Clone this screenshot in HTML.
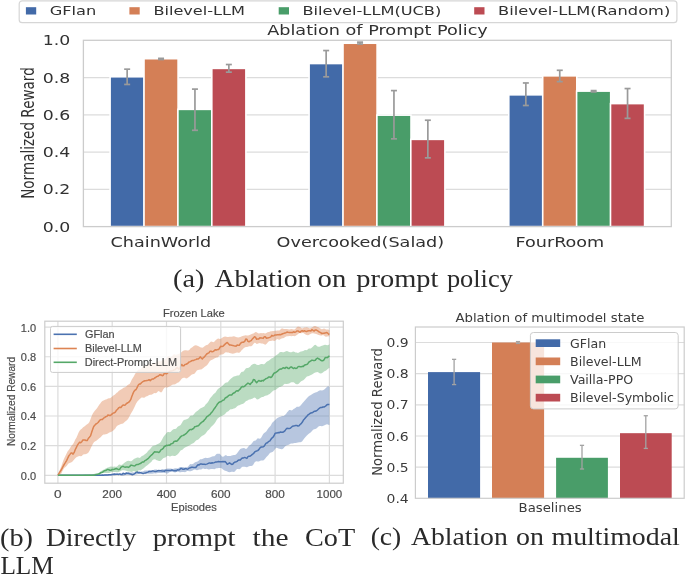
<!DOCTYPE html>
<html><head><meta charset="utf-8"><title>Figure</title>
<style>html,body{margin:0;padding:0;background:#fff;width:685px;height:575px;overflow:hidden}svg{display:block}</style>
</head><body>
<svg width="685" height="575" viewBox="0 0 685 575">
<defs><filter id="soft" filterUnits="userSpaceOnUse" x="0" y="0" width="685" height="575"><feGaussianBlur stdDeviation="0.45"/></filter></defs>
<rect x="0" y="0" width="685" height="575" fill="#ffffff"/>
<g filter="url(#soft)">
<line x1="83.40" y1="189.34" x2="671.30" y2="189.34" stroke="#dcdcdc" stroke-width="1.3"/>
<line x1="83.40" y1="152.08" x2="671.30" y2="152.08" stroke="#dcdcdc" stroke-width="1.3"/>
<line x1="83.40" y1="114.82" x2="671.30" y2="114.82" stroke="#dcdcdc" stroke-width="1.3"/>
<line x1="83.40" y1="77.56" x2="671.30" y2="77.56" stroke="#dcdcdc" stroke-width="1.3"/>
<rect x="110.10" y="76.76" width="34.10" height="149.84" fill="#436aa8" stroke="#ffffff" stroke-width="1.6"/>
<rect x="144.00" y="58.69" width="34.10" height="167.91" fill="#d47f56" stroke="#ffffff" stroke-width="1.6"/>
<rect x="177.90" y="109.36" width="34.10" height="117.24" fill="#4a9d69" stroke="#ffffff" stroke-width="1.6"/>
<rect x="211.80" y="68.38" width="34.10" height="158.22" fill="#bc4c53" stroke="#ffffff" stroke-width="1.6"/>
<rect x="309.10" y="63.53" width="34.10" height="163.07" fill="#436aa8" stroke="#ffffff" stroke-width="1.6"/>
<rect x="343.00" y="43.23" width="34.10" height="183.37" fill="#d47f56" stroke="#ffffff" stroke-width="1.6"/>
<rect x="376.90" y="115.14" width="34.10" height="111.46" fill="#4a9d69" stroke="#ffffff" stroke-width="1.6"/>
<rect x="410.80" y="139.36" width="34.10" height="87.24" fill="#bc4c53" stroke="#ffffff" stroke-width="1.6"/>
<rect x="508.80" y="94.83" width="34.10" height="131.77" fill="#436aa8" stroke="#ffffff" stroke-width="1.6"/>
<rect x="542.70" y="75.83" width="34.10" height="150.77" fill="#d47f56" stroke="#ffffff" stroke-width="1.6"/>
<rect x="576.60" y="91.11" width="34.10" height="135.49" fill="#4a9d69" stroke="#ffffff" stroke-width="1.6"/>
<rect x="610.50" y="103.59" width="34.10" height="123.01" fill="#bc4c53" stroke="#ffffff" stroke-width="1.6"/>
<line x1="127.15" y1="69.18" x2="127.15" y2="84.45" stroke="#9a9a9a" stroke-width="1.7"/>
<line x1="124.15" y1="69.18" x2="130.15" y2="69.18" stroke="#9a9a9a" stroke-width="1.7"/>
<line x1="124.15" y1="84.45" x2="130.15" y2="84.45" stroke="#9a9a9a" stroke-width="1.7"/>
<line x1="161.05" y1="58.37" x2="161.05" y2="59.49" stroke="#9a9a9a" stroke-width="1.7"/>
<line x1="158.05" y1="58.37" x2="164.05" y2="58.37" stroke="#9a9a9a" stroke-width="1.7"/>
<line x1="158.05" y1="59.49" x2="164.05" y2="59.49" stroke="#9a9a9a" stroke-width="1.7"/>
<line x1="194.95" y1="89.11" x2="194.95" y2="130.28" stroke="#9a9a9a" stroke-width="1.7"/>
<line x1="191.95" y1="89.11" x2="197.95" y2="89.11" stroke="#9a9a9a" stroke-width="1.7"/>
<line x1="191.95" y1="130.28" x2="197.95" y2="130.28" stroke="#9a9a9a" stroke-width="1.7"/>
<line x1="228.85" y1="64.52" x2="228.85" y2="72.16" stroke="#9a9a9a" stroke-width="1.7"/>
<line x1="225.85" y1="64.52" x2="231.85" y2="64.52" stroke="#9a9a9a" stroke-width="1.7"/>
<line x1="225.85" y1="72.16" x2="231.85" y2="72.16" stroke="#9a9a9a" stroke-width="1.7"/>
<line x1="326.15" y1="50.55" x2="326.15" y2="76.81" stroke="#9a9a9a" stroke-width="1.7"/>
<line x1="323.15" y1="50.55" x2="329.15" y2="50.55" stroke="#9a9a9a" stroke-width="1.7"/>
<line x1="323.15" y1="76.81" x2="329.15" y2="76.81" stroke="#9a9a9a" stroke-width="1.7"/>
<line x1="360.05" y1="42.16" x2="360.05" y2="44.03" stroke="#9a9a9a" stroke-width="1.7"/>
<line x1="357.05" y1="42.16" x2="363.05" y2="42.16" stroke="#9a9a9a" stroke-width="1.7"/>
<line x1="357.05" y1="44.03" x2="363.05" y2="44.03" stroke="#9a9a9a" stroke-width="1.7"/>
<line x1="393.95" y1="90.60" x2="393.95" y2="138.85" stroke="#9a9a9a" stroke-width="1.7"/>
<line x1="390.95" y1="90.60" x2="396.95" y2="90.60" stroke="#9a9a9a" stroke-width="1.7"/>
<line x1="390.95" y1="138.85" x2="396.95" y2="138.85" stroke="#9a9a9a" stroke-width="1.7"/>
<line x1="427.85" y1="120.22" x2="427.85" y2="157.86" stroke="#9a9a9a" stroke-width="1.7"/>
<line x1="424.85" y1="120.22" x2="430.85" y2="120.22" stroke="#9a9a9a" stroke-width="1.7"/>
<line x1="424.85" y1="157.86" x2="430.85" y2="157.86" stroke="#9a9a9a" stroke-width="1.7"/>
<line x1="525.85" y1="82.96" x2="525.85" y2="105.50" stroke="#9a9a9a" stroke-width="1.7"/>
<line x1="522.85" y1="82.96" x2="528.85" y2="82.96" stroke="#9a9a9a" stroke-width="1.7"/>
<line x1="522.85" y1="105.50" x2="528.85" y2="105.50" stroke="#9a9a9a" stroke-width="1.7"/>
<line x1="559.75" y1="70.29" x2="559.75" y2="81.66" stroke="#9a9a9a" stroke-width="1.7"/>
<line x1="556.75" y1="70.29" x2="562.75" y2="70.29" stroke="#9a9a9a" stroke-width="1.7"/>
<line x1="556.75" y1="81.66" x2="562.75" y2="81.66" stroke="#9a9a9a" stroke-width="1.7"/>
<line x1="593.65" y1="90.60" x2="593.65" y2="91.91" stroke="#9a9a9a" stroke-width="1.7"/>
<line x1="590.65" y1="90.60" x2="596.65" y2="90.60" stroke="#9a9a9a" stroke-width="1.7"/>
<line x1="590.65" y1="91.91" x2="596.65" y2="91.91" stroke="#9a9a9a" stroke-width="1.7"/>
<line x1="627.55" y1="88.55" x2="627.55" y2="118.36" stroke="#9a9a9a" stroke-width="1.7"/>
<line x1="624.55" y1="88.55" x2="630.55" y2="88.55" stroke="#9a9a9a" stroke-width="1.7"/>
<line x1="624.55" y1="118.36" x2="630.55" y2="118.36" stroke="#9a9a9a" stroke-width="1.7"/>
<rect x="83.40" y="40.30" width="587.90" height="186.30" fill="none" stroke="#cccccc" stroke-width="1.3"/>
<text x="42.80" y="231.60" font-size="14" style="font-family:&quot;DejaVu Sans&quot;,sans-serif" fill="#303030" textLength="27.51" lengthAdjust="spacingAndGlyphs">0.0</text>
<text x="42.80" y="194.34" font-size="14" style="font-family:&quot;DejaVu Sans&quot;,sans-serif" fill="#303030" textLength="27.51" lengthAdjust="spacingAndGlyphs">0.2</text>
<text x="42.80" y="157.08" font-size="14" style="font-family:&quot;DejaVu Sans&quot;,sans-serif" fill="#303030" textLength="27.51" lengthAdjust="spacingAndGlyphs">0.4</text>
<text x="42.80" y="119.82" font-size="14" style="font-family:&quot;DejaVu Sans&quot;,sans-serif" fill="#303030" textLength="27.51" lengthAdjust="spacingAndGlyphs">0.6</text>
<text x="42.80" y="82.56" font-size="14" style="font-family:&quot;DejaVu Sans&quot;,sans-serif" fill="#303030" textLength="27.51" lengthAdjust="spacingAndGlyphs">0.8</text>
<text x="42.80" y="45.30" font-size="14" style="font-family:&quot;DejaVu Sans&quot;,sans-serif" fill="#303030" textLength="27.51" lengthAdjust="spacingAndGlyphs">1.0</text>
<text transform="translate(33.80,198.80) scale(1.2,1) rotate(-90)" x="0" y="0" font-size="14.5" style="font-family:&quot;DejaVu Sans&quot;,sans-serif" fill="#303030" textLength="131.57" lengthAdjust="spacingAndGlyphs">Normalized Reward</text>
<text x="110.60" y="247.10" font-size="14" style="font-family:&quot;DejaVu Sans&quot;,sans-serif" fill="#303030" textLength="100.64" lengthAdjust="spacingAndGlyphs">ChainWorld</text>
<text x="276.60" y="247.10" font-size="14" style="font-family:&quot;DejaVu Sans&quot;,sans-serif" fill="#303030" textLength="167.58" lengthAdjust="spacingAndGlyphs">Overcooked(Salad)</text>
<text x="515.50" y="247.10" font-size="14" style="font-family:&quot;DejaVu Sans&quot;,sans-serif" fill="#303030" textLength="88.78" lengthAdjust="spacingAndGlyphs">FourRoom</text>
<text x="267.20" y="34.60" font-size="14" style="font-family:&quot;DejaVu Sans&quot;,sans-serif" fill="#303030" textLength="220.63" lengthAdjust="spacingAndGlyphs">Ablation of Prompt Policy</text>
<rect x="19.2" y="0.8" width="657.7" height="21.9" rx="3" ry="3" fill="#ffffff" fill-opacity="0.8" stroke="#d6d6d6" stroke-width="1.2"/>
<rect x="25.90" y="7.20" width="10.30" height="7.30" fill="#436aa8"/>
<text x="49.70" y="15.10" font-size="12.8" style="font-family:&quot;DejaVu Sans&quot;,sans-serif" fill="#303030" textLength="46.69" lengthAdjust="spacingAndGlyphs">GFlan</text>
<rect x="129.40" y="7.20" width="10.30" height="7.30" fill="#d47f56"/>
<text x="153.40" y="15.10" font-size="12.8" style="font-family:&quot;DejaVu Sans&quot;,sans-serif" fill="#303030" textLength="91.59" lengthAdjust="spacingAndGlyphs">Bilevel-LLM</text>
<rect x="278.70" y="7.20" width="10.30" height="7.30" fill="#4a9d69"/>
<text x="302.40" y="15.10" font-size="12.8" style="font-family:&quot;DejaVu Sans&quot;,sans-serif" fill="#303030" textLength="138.92" lengthAdjust="spacingAndGlyphs">Bilevel-LLM(UCB)</text>
<rect x="474.20" y="7.20" width="10.30" height="7.30" fill="#bc4c53"/>
<text x="498.00" y="15.10" font-size="12.8" style="font-family:&quot;DejaVu Sans&quot;,sans-serif" fill="#303030" textLength="172.30" lengthAdjust="spacingAndGlyphs">Bilevel-LLM(Random)</text>
<text x="173.10" y="287.30" font-size="26" style="font-family:&quot;Liberation Serif&quot;,serif" fill="#2a2a2a" textLength="31.30" lengthAdjust="spacingAndGlyphs">(a)</text>
<text x="214.40" y="287.30" font-size="26" style="font-family:&quot;Liberation Serif&quot;,serif" fill="#2a2a2a" textLength="96.98" lengthAdjust="spacingAndGlyphs">Ablation</text>
<text x="317.60" y="287.30" font-size="26" style="font-family:&quot;Liberation Serif&quot;,serif" fill="#2a2a2a" textLength="28.70" lengthAdjust="spacingAndGlyphs">on</text>
<text x="356.30" y="287.30" font-size="26" style="font-family:&quot;Liberation Serif&quot;,serif" fill="#2a2a2a" textLength="82.16" lengthAdjust="spacingAndGlyphs">prompt</text>
<text x="446.90" y="287.30" font-size="26" style="font-family:&quot;Liberation Serif&quot;,serif" fill="#2a2a2a" textLength="65.99" lengthAdjust="spacingAndGlyphs">policy</text>
<line x1="57.90" y1="321.20" x2="57.90" y2="483.20" stroke="#dcdcdc" stroke-width="1.2"/>
<line x1="112.20" y1="321.20" x2="112.20" y2="483.20" stroke="#dcdcdc" stroke-width="1.2"/>
<line x1="166.50" y1="321.20" x2="166.50" y2="483.20" stroke="#dcdcdc" stroke-width="1.2"/>
<line x1="220.80" y1="321.20" x2="220.80" y2="483.20" stroke="#dcdcdc" stroke-width="1.2"/>
<line x1="275.10" y1="321.20" x2="275.10" y2="483.20" stroke="#dcdcdc" stroke-width="1.2"/>
<line x1="329.40" y1="321.20" x2="329.40" y2="483.20" stroke="#dcdcdc" stroke-width="1.2"/>
<line x1="44.80" y1="475.30" x2="343.30" y2="475.30" stroke="#dcdcdc" stroke-width="1.2"/>
<line x1="44.80" y1="445.66" x2="343.30" y2="445.66" stroke="#dcdcdc" stroke-width="1.2"/>
<line x1="44.80" y1="416.02" x2="343.30" y2="416.02" stroke="#dcdcdc" stroke-width="1.2"/>
<line x1="44.80" y1="386.38" x2="343.30" y2="386.38" stroke="#dcdcdc" stroke-width="1.2"/>
<line x1="44.80" y1="356.74" x2="343.30" y2="356.74" stroke="#dcdcdc" stroke-width="1.2"/>
<line x1="44.80" y1="327.10" x2="343.30" y2="327.10" stroke="#dcdcdc" stroke-width="1.2"/>
<rect x="44.80" y="321.20" width="298.50" height="162.00" fill="none" stroke="#cccccc" stroke-width="1.2"/>
<path d="M57.9,475.3 L59.0,475.3 L60.1,475.3 L61.2,475.2 L62.2,475.2 L63.3,475.2 L64.4,475.2 L65.5,475.2 L66.6,475.2 L67.7,475.1 L68.8,475.1 L69.8,475.1 L70.9,475.0 L72.0,475.0 L73.1,475.0 L74.2,475.0 L75.3,475.0 L76.4,475.0 L77.4,475.0 L78.5,475.0 L79.6,474.9 L80.7,474.9 L81.8,475.0 L82.9,475.0 L84.0,474.9 L85.0,474.8 L86.1,474.8 L87.2,474.9 L88.3,474.9 L89.4,474.9 L90.5,474.9 L91.6,474.9 L92.7,474.9 L93.7,474.7 L94.8,474.7 L95.9,474.7 L97.0,474.7 L98.1,474.7 L99.2,474.6 L100.3,474.4 L101.3,474.4 L102.4,474.4 L103.5,474.3 L104.6,474.2 L105.7,474.1 L106.8,474.0 L107.9,473.9 L108.9,473.9 L110.0,474.0 L111.1,474.0 L112.2,474.0 L113.3,473.8 L114.4,473.8 L115.5,473.7 L116.5,473.4 L117.6,473.2 L118.7,473.4 L119.8,473.7 L120.9,473.7 L122.0,473.5 L123.1,473.3 L124.1,472.9 L125.2,472.6 L126.3,472.7 L127.4,472.7 L128.5,472.5 L129.6,472.4 L130.7,472.5 L131.7,472.4 L132.8,472.3 L133.9,472.4 L135.0,472.5 L136.1,472.3 L137.2,471.8 L138.3,471.6 L139.3,471.7 L140.4,471.8 L141.5,471.6 L142.6,471.5 L143.7,471.1 L144.8,470.6 L145.9,470.4 L147.0,470.4 L148.0,470.4 L149.1,470.2 L150.2,470.2 L151.3,470.4 L152.4,470.4 L153.5,470.1 L154.6,469.6 L155.6,469.4 L156.7,469.6 L157.8,470.0 L158.9,470.0 L160.0,469.9 L161.1,469.5 L162.2,469.1 L163.2,469.2 L164.3,469.2 L165.4,469.1 L166.5,468.7 L167.6,468.6 L168.7,468.6 L169.8,468.5 L170.8,468.5 L171.9,468.8 L173.0,469.0 L174.1,468.6 L175.2,468.2 L176.3,468.3 L177.4,468.4 L178.4,467.9 L179.5,467.2 L180.6,467.1 L181.7,467.1 L182.8,467.1 L183.9,467.3 L185.0,467.4 L186.0,467.3 L187.1,467.2 L188.2,466.5 L189.3,464.9 L190.4,464.1 L191.5,464.2 L192.6,464.1 L193.7,463.5 L194.7,462.6 L195.8,462.0 L196.9,461.7 L198.0,461.3 L199.1,460.2 L200.2,459.3 L201.3,459.2 L202.3,459.0 L203.4,458.6 L204.5,458.0 L205.6,457.8 L206.7,458.0 L207.8,458.1 L208.9,457.7 L209.9,457.4 L211.0,457.1 L212.1,456.6 L213.2,456.3 L214.3,456.2 L215.4,455.2 L216.5,453.9 L217.5,453.7 L218.6,453.7 L219.7,453.7 L220.8,454.9 L221.9,456.4 L223.0,456.7 L224.1,456.2 L225.1,455.3 L226.2,455.3 L227.3,455.9 L228.4,455.9 L229.5,456.0 L230.6,455.9 L231.7,455.5 L232.7,455.3 L233.8,455.1 L234.9,454.9 L236.0,454.4 L237.1,453.2 L238.2,451.7 L239.3,450.3 L240.3,449.0 L241.4,448.6 L242.5,448.3 L243.6,447.9 L244.7,448.3 L245.8,449.0 L246.9,448.6 L248.0,447.0 L249.0,445.8 L250.1,445.1 L251.2,444.3 L252.3,442.8 L253.4,441.3 L254.5,440.8 L255.6,440.5 L256.6,439.4 L257.7,438.3 L258.8,438.5 L259.9,438.8 L261.0,438.0 L262.1,436.1 L263.2,434.1 L264.2,432.9 L265.3,432.3 L266.4,431.2 L267.5,429.6 L268.6,428.1 L269.7,426.8 L270.8,425.4 L271.8,423.6 L272.9,422.0 L274.0,421.2 L275.1,420.1 L276.2,418.9 L277.3,418.0 L278.4,417.5 L279.4,417.1 L280.5,416.7 L281.6,416.3 L282.7,416.1 L283.8,415.9 L284.9,415.0 L286.0,414.0 L287.0,412.6 L288.1,411.2 L289.2,410.1 L290.3,409.9 L291.4,410.5 L292.5,409.9 L293.6,408.9 L294.6,408.5 L295.7,407.8 L296.8,406.8 L297.9,406.7 L299.0,406.8 L300.1,406.0 L301.2,404.7 L302.2,403.5 L303.3,402.2 L304.4,400.9 L305.5,399.8 L306.6,398.5 L307.7,397.3 L308.8,396.2 L309.9,395.6 L310.9,395.1 L312.0,394.3 L313.1,393.6 L314.2,393.0 L315.3,392.5 L316.4,392.2 L317.5,391.8 L318.5,391.1 L319.6,390.4 L320.7,390.2 L321.8,390.5 L322.9,390.3 L324.0,389.8 L325.1,388.8 L326.1,387.7 L327.2,386.8 L328.3,386.3 L329.4,386.8 L329.4,424.9 L328.3,424.7 L327.2,424.3 L326.1,424.6 L325.1,425.0 L324.0,425.4 L322.9,426.0 L321.8,426.2 L320.7,426.0 L319.6,425.9 L318.5,426.4 L317.5,427.5 L316.4,428.5 L315.3,429.0 L314.2,429.2 L313.1,429.8 L312.0,431.1 L310.9,432.2 L309.9,433.0 L308.8,433.8 L307.7,434.7 L306.6,435.7 L305.5,436.9 L304.4,438.2 L303.3,439.7 L302.2,441.2 L301.2,442.0 L300.1,442.2 L299.0,442.3 L297.9,442.4 L296.8,442.8 L295.7,443.1 L294.6,443.0 L293.6,443.2 L292.5,443.4 L291.4,443.6 L290.3,443.8 L289.2,444.4 L288.1,445.0 L287.0,445.3 L286.0,445.7 L284.9,446.5 L283.8,447.9 L282.7,449.1 L281.6,449.3 L280.5,448.9 L279.4,448.7 L278.4,448.6 L277.3,448.0 L276.2,447.8 L275.1,448.9 L274.0,450.6 L272.9,451.7 L271.8,452.2 L270.8,452.5 L269.7,453.3 L268.6,454.7 L267.5,455.9 L266.4,457.1 L265.3,458.5 L264.2,459.8 L263.2,460.5 L262.1,460.6 L261.0,460.4 L259.9,461.0 L258.8,461.6 L257.7,461.5 L256.6,461.2 L255.6,461.5 L254.5,462.5 L253.4,464.4 L252.3,465.8 L251.2,465.9 L250.1,466.0 L249.0,466.3 L248.0,466.8 L246.9,467.2 L245.8,467.0 L244.7,466.8 L243.6,466.7 L242.5,466.8 L241.4,467.5 L240.3,468.7 L239.3,469.3 L238.2,469.0 L237.1,469.1 L236.0,470.0 L234.9,471.4 L233.8,472.1 L232.7,471.8 L231.7,471.7 L230.6,472.1 L229.5,472.2 L228.4,472.0 L227.3,471.6 L226.2,471.0 L225.1,470.8 L224.1,470.3 L223.0,469.5 L221.9,468.6 L220.8,468.0 L219.7,467.9 L218.6,468.1 L217.5,468.3 L216.5,468.3 L215.4,468.8 L214.3,469.2 L213.2,469.0 L212.1,468.9 L211.0,469.0 L209.9,469.2 L208.9,469.5 L207.8,469.2 L206.7,468.8 L205.6,469.1 L204.5,469.0 L203.4,468.4 L202.3,468.7 L201.3,469.5 L200.2,469.5 L199.1,469.5 L198.0,469.9 L196.9,470.2 L195.8,469.7 L194.7,469.4 L193.7,469.7 L192.6,470.4 L191.5,471.0 L190.4,471.2 L189.3,471.2 L188.2,471.0 L187.1,471.1 L186.0,471.7 L185.0,472.2 L183.9,472.1 L182.8,472.0 L181.7,472.0 L180.6,472.3 L179.5,472.3 L178.4,471.8 L177.4,471.7 L176.3,472.1 L175.2,472.5 L174.1,472.3 L173.0,472.0 L171.9,471.8 L170.8,471.8 L169.8,472.1 L168.7,472.7 L167.6,473.4 L166.5,473.4 L165.4,473.1 L164.3,472.9 L163.2,472.8 L162.2,472.9 L161.1,473.0 L160.0,473.0 L158.9,472.9 L157.8,473.0 L156.7,473.3 L155.6,473.4 L154.6,473.3 L153.5,473.4 L152.4,473.7 L151.3,473.7 L150.2,473.7 L149.1,473.7 L148.0,473.7 L147.0,473.7 L145.9,473.5 L144.8,473.5 L143.7,473.5 L142.6,473.4 L141.5,473.4 L140.4,473.6 L139.3,473.9 L138.3,474.0 L137.2,474.2 L136.1,474.5 L135.0,474.6 L133.9,474.5 L132.8,474.5 L131.7,474.6 L130.7,474.7 L129.6,474.7 L128.5,474.9 L127.4,475.1 L126.3,475.1 L125.2,475.0 L124.1,475.4 L123.1,475.7 L122.0,475.5 L120.9,475.2 L119.8,475.0 L118.7,474.8 L117.6,474.8 L116.5,475.1 L115.5,475.3 L114.4,475.4 L113.3,475.4 L112.2,475.4 L111.1,475.4 L110.0,475.5 L108.9,475.5 L107.9,475.6 L106.8,475.8 L105.7,476.0 L104.6,476.0 L103.5,476.0 L102.4,475.9 L101.3,475.9 L100.3,475.9 L99.2,475.9 L98.1,475.9 L97.0,475.9 L95.9,475.7 L94.8,475.6 L93.7,475.7 L92.7,475.8 L91.6,475.8 L90.5,475.8 L89.4,475.9 L88.3,475.8 L87.2,475.8 L86.1,475.7 L85.0,475.7 L84.0,475.5 L82.9,475.5 L81.8,475.7 L80.7,475.7 L79.6,475.6 L78.5,475.5 L77.4,475.5 L76.4,475.6 L75.3,475.5 L74.2,475.5 L73.1,475.6 L72.0,475.5 L70.9,475.5 L69.8,475.5 L68.8,475.5 L67.7,475.4 L66.6,475.4 L65.5,475.4 L64.4,475.4 L63.3,475.4 L62.2,475.4 L61.2,475.3 L60.1,475.3 L59.0,475.3 L57.9,475.3 Z" fill="#4c72b0" fill-opacity="0.4"/>
<path d="M57.9,475.3 L59.0,475.3 L60.1,475.3 L61.2,475.3 L62.2,475.3 L63.3,475.3 L64.4,475.3 L65.5,475.3 L66.6,475.3 L67.7,475.3 L68.8,475.3 L69.8,475.3 L70.9,475.3 L72.0,475.3 L73.1,475.3 L74.2,475.3 L75.3,475.3 L76.4,475.3 L77.4,475.3 L78.5,475.3 L79.6,475.3 L80.7,475.3 L81.8,475.3 L82.9,475.3 L84.0,475.3 L85.0,475.3 L86.1,475.3 L87.2,475.3 L88.3,475.3 L89.4,475.3 L90.5,475.3 L91.6,475.3 L92.7,475.3 L93.7,475.3 L94.8,475.3 L95.9,475.3 L97.0,475.3 L98.1,475.3 L99.2,475.3 L100.3,475.2 L101.3,475.2 L102.4,475.1 L103.5,475.2 L104.6,475.1 L105.7,475.0 L106.8,474.9 L107.9,475.0 L108.9,474.7 L110.0,474.8 L111.1,474.7 L112.2,474.4 L113.3,474.2 L114.4,474.1 L115.5,474.3 L116.5,474.3 L117.6,474.3 L118.7,474.4 L119.8,473.9 L120.9,474.5 L122.0,474.4 L123.1,473.2 L124.1,473.8 L125.2,474.0 L126.3,473.1 L127.4,473.3 L128.5,473.3 L129.6,473.8 L130.7,474.0 L131.7,474.6 L132.8,474.7 L133.9,474.1 L135.0,473.3 L136.1,472.4 L137.2,471.9 L138.3,472.8 L139.3,472.6 L140.4,472.8 L141.5,473.0 L142.6,473.4 L143.7,473.4 L144.8,473.1 L145.9,472.9 L147.0,472.4 L148.0,472.1 L149.1,471.4 L150.2,471.5 L151.3,471.4 L152.4,471.0 L153.5,471.1 L154.6,471.4 L155.6,471.5 L156.7,471.3 L157.8,470.7 L158.9,470.6 L160.0,470.7 L161.1,470.8 L162.2,471.1 L163.2,471.1 L164.3,471.3 L165.4,470.4 L166.5,470.5 L167.6,470.5 L168.7,470.4 L169.8,470.6 L170.8,470.5 L171.9,470.0 L173.0,470.4 L174.1,470.8 L175.2,470.6 L176.3,470.8 L177.4,469.8 L178.4,470.0 L179.5,469.7 L180.6,468.6 L181.7,468.5 L182.8,469.3 L183.9,469.2 L185.0,468.7 L186.0,468.6 L187.1,469.2 L188.2,468.9 L189.3,468.0 L190.4,467.8 L191.5,467.3 L192.6,467.2 L193.7,467.5 L194.7,467.5 L195.8,467.5 L196.9,466.0 L198.0,464.8 L199.1,464.9 L200.2,464.1 L201.3,463.9 L202.3,464.3 L203.4,464.3 L204.5,464.2 L205.6,464.4 L206.7,464.1 L207.8,463.6 L208.9,463.1 L209.9,463.0 L211.0,463.2 L212.1,462.8 L213.2,462.9 L214.3,462.6 L215.4,462.1 L216.5,462.0 L217.5,461.8 L218.6,461.5 L219.7,461.7 L220.8,461.8 L221.9,461.7 L223.0,461.5 L224.1,461.7 L225.1,461.5 L226.2,462.7 L227.3,464.3 L228.4,463.6 L229.5,462.8 L230.6,463.6 L231.7,464.4 L232.7,464.2 L233.8,462.8 L234.9,462.1 L236.0,461.9 L237.1,461.4 L238.2,460.3 L239.3,460.0 L240.3,459.9 L241.4,458.7 L242.5,458.0 L243.6,457.9 L244.7,457.4 L245.8,457.9 L246.9,458.4 L248.0,456.7 L249.0,456.2 L250.1,456.2 L251.2,455.4 L252.3,454.4 L253.4,453.7 L254.5,452.2 L255.6,451.4 L256.6,451.0 L257.7,450.6 L258.8,449.6 L259.9,448.0 L261.0,447.1 L262.1,446.9 L263.2,446.8 L264.2,446.1 L265.3,444.3 L266.4,443.0 L267.5,442.8 L268.6,441.4 L269.7,441.1 L270.8,439.5 L271.8,438.1 L272.9,437.3 L274.0,435.8 L275.1,433.4 L276.2,432.9 L277.3,432.9 L278.4,432.5 L279.4,432.7 L280.5,432.0 L281.6,432.2 L282.7,432.2 L283.8,431.7 L284.9,430.8 L286.0,429.2 L287.0,428.3 L288.1,428.4 L289.2,428.4 L290.3,428.2 L291.4,427.2 L292.5,426.2 L293.6,426.0 L294.6,425.8 L295.7,425.5 L296.8,425.5 L297.9,426.0 L299.0,425.7 L300.1,424.5 L301.2,423.6 L302.2,422.3 L303.3,420.3 L304.4,419.1 L305.5,417.8 L306.6,416.6 L307.7,415.2 L308.8,414.4 L309.9,413.5 L310.9,413.0 L312.0,412.8 L313.1,412.1 L314.2,411.3 L315.3,411.2 L316.4,410.8 L317.5,410.0 L318.5,409.0 L319.6,408.1 L320.7,407.4 L321.8,407.5 L322.9,407.0 L324.0,407.0 L325.1,406.3 L326.1,405.6 L327.2,404.6 L328.3,404.5 L329.4,404.6" fill="none" stroke="#4c72b0" stroke-width="1.5" stroke-linejoin="round"/>
<path d="M57.9,474.2 L59.0,471.9 L60.1,469.3 L61.2,466.6 L62.2,463.8 L63.3,460.5 L64.4,458.0 L65.5,455.8 L66.6,453.4 L67.7,451.3 L68.8,449.9 L69.8,448.4 L70.9,446.5 L72.0,445.3 L73.1,444.1 L74.2,442.0 L75.3,439.6 L76.4,437.7 L77.4,435.5 L78.5,432.8 L79.6,430.7 L80.7,429.6 L81.8,428.7 L82.9,427.6 L84.0,426.7 L85.0,426.1 L86.1,425.1 L87.2,424.2 L88.3,423.5 L89.4,422.0 L90.5,419.3 L91.6,416.2 L92.7,413.8 L93.7,412.2 L94.8,410.7 L95.9,409.4 L97.0,408.2 L98.1,406.4 L99.2,404.8 L100.3,403.6 L101.3,402.0 L102.4,401.0 L103.5,400.4 L104.6,399.9 L105.7,399.5 L106.8,399.3 L107.9,398.6 L108.9,398.2 L110.0,398.2 L111.1,397.5 L112.2,396.5 L113.3,395.6 L114.4,394.9 L115.5,394.0 L116.5,393.0 L117.6,392.2 L118.7,391.1 L119.8,390.2 L120.9,389.6 L122.0,388.9 L123.1,388.0 L124.1,387.6 L125.2,387.3 L126.3,386.5 L127.4,385.3 L128.5,384.5 L129.6,383.9 L130.7,381.9 L131.7,379.7 L132.8,378.1 L133.9,376.2 L135.0,374.1 L136.1,372.6 L137.2,370.9 L138.3,369.8 L139.3,369.6 L140.4,369.2 L141.5,368.2 L142.6,366.6 L143.7,365.1 L144.8,365.1 L145.9,365.9 L147.0,365.6 L148.0,364.3 L149.1,363.4 L150.2,363.6 L151.3,363.8 L152.4,363.4 L153.5,363.1 L154.6,362.9 L155.6,362.6 L156.7,361.8 L157.8,361.3 L158.9,361.2 L160.0,361.3 L161.1,361.2 L162.2,360.3 L163.2,359.4 L164.3,359.4 L165.4,359.1 L166.5,357.9 L167.6,356.8 L168.7,356.3 L169.8,356.7 L170.8,357.2 L171.9,356.6 L173.0,354.9 L174.1,354.1 L175.2,354.7 L176.3,354.8 L177.4,354.3 L178.4,354.0 L179.5,353.6 L180.6,352.9 L181.7,351.9 L182.8,351.0 L183.9,350.6 L185.0,350.2 L186.0,350.2 L187.1,350.4 L188.2,350.6 L189.3,349.9 L190.4,348.6 L191.5,347.8 L192.6,347.0 L193.7,346.1 L194.7,345.5 L195.8,345.2 L196.9,345.4 L198.0,345.9 L199.1,346.6 L200.2,347.2 L201.3,347.5 L202.3,347.7 L203.4,347.3 L204.5,346.3 L205.6,345.4 L206.7,345.1 L207.8,344.8 L208.9,343.6 L209.9,342.4 L211.0,341.6 L212.1,341.7 L213.2,342.2 L214.3,341.7 L215.4,340.5 L216.5,339.5 L217.5,338.8 L218.6,338.6 L219.7,339.1 L220.8,338.8 L221.9,337.9 L223.0,337.2 L224.1,336.7 L225.1,336.5 L226.2,336.7 L227.3,337.0 L228.4,336.9 L229.5,336.8 L230.6,336.8 L231.7,336.8 L232.7,336.5 L233.8,336.3 L234.9,336.6 L236.0,336.9 L237.1,337.2 L238.2,337.4 L239.3,337.3 L240.3,337.0 L241.4,336.4 L242.5,335.9 L243.6,335.7 L244.7,335.5 L245.8,335.2 L246.9,335.4 L248.0,335.5 L249.0,335.2 L250.1,334.7 L251.2,334.2 L252.3,333.8 L253.4,333.6 L254.5,332.7 L255.6,331.9 L256.6,332.3 L257.7,333.1 L258.8,333.4 L259.9,333.2 L261.0,332.9 L262.1,333.2 L263.2,333.1 L264.2,333.2 L265.3,333.5 L266.4,333.0 L267.5,332.2 L268.6,331.9 L269.7,331.7 L270.8,331.3 L271.8,331.2 L272.9,331.1 L274.0,330.9 L275.1,330.8 L276.2,330.7 L277.3,330.5 L278.4,330.6 L279.4,330.5 L280.5,329.5 L281.6,328.6 L282.7,328.6 L283.8,329.0 L284.9,329.0 L286.0,329.0 L287.0,329.0 L288.1,329.3 L289.2,329.6 L290.3,329.3 L291.4,329.1 L292.5,329.3 L293.6,329.6 L294.6,329.5 L295.7,328.6 L296.8,327.3 L297.9,326.6 L299.0,326.8 L300.1,327.1 L301.2,327.9 L302.2,328.4 L303.3,327.9 L304.4,327.4 L305.5,327.4 L306.6,327.3 L307.7,327.4 L308.8,328.1 L309.9,328.4 L310.9,327.9 L312.0,327.4 L313.1,326.8 L314.2,326.0 L315.3,325.9 L316.4,326.6 L317.5,327.0 L318.5,327.3 L319.6,327.9 L320.7,328.7 L321.8,329.3 L322.9,328.9 L324.0,328.4 L325.1,328.9 L326.1,329.6 L327.2,329.5 L328.3,329.6 L329.4,330.2 L329.4,336.6 L328.3,336.3 L327.2,336.5 L326.1,336.7 L325.1,336.4 L324.0,335.5 L322.9,335.1 L321.8,335.4 L320.7,335.5 L319.6,335.3 L318.5,335.0 L317.5,334.6 L316.4,334.0 L315.3,333.7 L314.2,333.5 L313.1,333.2 L312.0,333.3 L310.9,333.7 L309.9,334.2 L308.8,334.9 L307.7,335.2 L306.6,334.9 L305.5,334.6 L304.4,333.7 L303.3,332.9 L302.2,333.1 L301.2,333.3 L300.1,333.0 L299.0,333.3 L297.9,334.2 L296.8,334.9 L295.7,335.7 L294.6,336.2 L293.6,336.1 L292.5,336.1 L291.4,336.3 L290.3,336.0 L289.2,335.9 L288.1,336.2 L287.0,336.3 L286.0,336.6 L284.9,337.3 L283.8,337.9 L282.7,338.2 L281.6,338.4 L280.5,339.0 L279.4,339.8 L278.4,339.5 L277.3,339.0 L276.2,339.7 L275.1,340.7 L274.0,341.0 L272.9,340.6 L271.8,340.8 L270.8,341.1 L269.7,341.1 L268.6,341.6 L267.5,342.8 L266.4,344.1 L265.3,344.7 L264.2,344.2 L263.2,343.7 L262.1,343.6 L261.0,343.4 L259.9,343.1 L258.8,343.3 L257.7,343.8 L256.6,343.9 L255.6,343.0 L254.5,342.8 L253.4,344.1 L252.3,345.5 L251.2,346.3 L250.1,346.2 L249.0,346.2 L248.0,346.8 L246.9,347.1 L245.8,347.1 L244.7,347.4 L243.6,348.2 L242.5,349.4 L241.4,350.5 L240.3,351.9 L239.3,352.8 L238.2,352.7 L237.1,352.4 L236.0,352.7 L234.9,353.2 L233.8,353.6 L232.7,353.8 L231.7,353.6 L230.6,353.2 L229.5,352.9 L228.4,352.6 L227.3,352.5 L226.2,352.3 L225.1,352.5 L224.1,353.4 L223.0,354.2 L221.9,354.5 L220.8,354.6 L219.7,355.2 L218.6,356.6 L217.5,357.5 L216.5,357.6 L215.4,358.0 L214.3,358.5 L213.2,359.2 L212.1,359.8 L211.0,360.2 L209.9,360.9 L208.9,362.4 L207.8,364.2 L206.7,365.6 L205.6,366.3 L204.5,367.0 L203.4,367.9 L202.3,368.7 L201.3,369.4 L200.2,369.6 L199.1,369.7 L198.0,370.0 L196.9,370.6 L195.8,372.1 L194.7,373.5 L193.7,373.9 L192.6,374.3 L191.5,374.8 L190.4,375.7 L189.3,376.7 L188.2,377.5 L187.1,378.3 L186.0,378.5 L185.0,377.8 L183.9,377.7 L182.8,378.1 L181.7,378.8 L180.6,380.2 L179.5,381.6 L178.4,382.4 L177.4,382.8 L176.3,383.4 L175.2,384.3 L174.1,384.5 L173.0,384.4 L171.9,385.0 L170.8,385.8 L169.8,386.3 L168.7,386.8 L167.6,387.4 L166.5,387.5 L165.4,387.3 L164.3,388.1 L163.2,389.6 L162.2,391.5 L161.1,392.5 L160.0,391.9 L158.9,391.1 L157.8,391.6 L156.7,392.7 L155.6,393.3 L154.6,393.1 L153.5,393.4 L152.4,394.3 L151.3,394.8 L150.2,394.7 L149.1,394.9 L148.0,395.7 L147.0,396.2 L145.9,396.6 L144.8,397.5 L143.7,397.7 L142.6,397.4 L141.5,397.6 L140.4,398.5 L139.3,399.6 L138.3,400.6 L137.2,401.7 L136.1,403.5 L135.0,406.0 L133.9,408.3 L132.8,410.5 L131.7,412.3 L130.7,414.1 L129.6,416.1 L128.5,418.2 L127.4,419.8 L126.3,420.7 L125.2,421.5 L124.1,422.6 L123.1,423.4 L122.0,423.7 L120.9,424.0 L119.8,424.5 L118.7,424.9 L117.6,425.4 L116.5,426.6 L115.5,428.3 L114.4,429.5 L113.3,430.4 L112.2,431.3 L111.1,432.0 L110.0,432.2 L108.9,432.7 L107.9,433.6 L106.8,434.1 L105.7,434.2 L104.6,434.5 L103.5,434.5 L102.4,435.2 L101.3,436.6 L100.3,437.6 L99.2,438.2 L98.1,439.2 L97.0,440.3 L95.9,440.9 L94.8,441.6 L93.7,442.5 L92.7,444.2 L91.6,446.3 L90.5,448.8 L89.4,451.1 L88.3,452.7 L87.2,453.6 L86.1,453.9 L85.0,454.2 L84.0,454.2 L82.9,454.7 L81.8,455.9 L80.7,456.2 L79.6,455.9 L78.5,456.2 L77.4,456.8 L76.4,457.3 L75.3,458.3 L74.2,459.6 L73.1,460.8 L72.0,461.9 L70.9,462.6 L69.8,462.9 L68.8,463.2 L67.7,464.4 L66.6,466.0 L65.5,466.9 L64.4,467.8 L63.3,469.6 L62.2,471.4 L61.2,473.7 L60.1,474.4 L59.0,474.2 L57.9,474.2 Z" fill="#dd8452" fill-opacity="0.42"/>
<path d="M57.9,475.3 L59.0,473.4 L60.1,471.7 L61.2,470.0 L62.2,468.1 L63.3,466.0 L64.4,464.1 L65.5,462.4 L66.6,460.6 L67.7,458.3 L68.8,455.9 L69.8,454.6 L70.9,453.1 L72.0,453.1 L73.1,454.1 L74.2,452.4 L75.3,449.5 L76.4,447.3 L77.4,445.2 L78.5,443.6 L79.6,442.2 L80.7,442.7 L81.8,441.7 L82.9,440.0 L84.0,439.9 L85.0,440.0 L86.1,440.6 L87.2,440.6 L88.3,438.5 L89.4,437.3 L90.5,435.9 L91.6,432.6 L92.7,429.3 L93.7,426.5 L94.8,425.2 L95.9,424.0 L97.0,423.3 L98.1,422.5 L99.2,421.0 L100.3,419.8 L101.3,419.6 L102.4,419.4 L103.5,418.2 L104.6,417.6 L105.7,416.7 L106.8,416.4 L107.9,415.1 L108.9,415.2 L110.0,415.6 L111.1,414.8 L112.2,413.9 L113.3,413.0 L114.4,412.8 L115.5,411.9 L116.5,410.2 L117.6,409.2 L118.7,407.8 L119.8,407.2 L120.9,407.6 L122.0,406.1 L123.1,404.9 L124.1,405.2 L125.2,405.0 L126.3,403.7 L127.4,403.0 L128.5,402.4 L129.6,401.4 L130.7,399.7 L131.7,396.7 L132.8,393.9 L133.9,391.5 L135.0,390.2 L136.1,389.5 L137.2,387.3 L138.3,385.0 L139.3,384.1 L140.4,383.9 L141.5,382.8 L142.6,381.8 L143.7,381.2 L144.8,380.7 L145.9,380.7 L147.0,380.6 L148.0,380.2 L149.1,379.7 L150.2,380.6 L151.3,379.6 L152.4,378.9 L153.5,379.0 L154.6,378.0 L155.6,377.5 L156.7,376.6 L157.8,376.3 L158.9,375.5 L160.0,374.7 L161.1,375.0 L162.2,375.7 L163.2,375.3 L164.3,373.4 L165.4,373.6 L166.5,373.8 L167.6,372.9 L168.7,372.2 L169.8,371.3 L170.8,371.1 L171.9,370.9 L173.0,370.6 L174.1,369.9 L175.2,369.6 L176.3,368.2 L177.4,367.5 L178.4,368.9 L179.5,368.9 L180.6,366.2 L181.7,364.5 L182.8,365.8 L183.9,365.8 L185.0,364.4 L186.0,364.3 L187.1,363.8 L188.2,362.9 L189.3,361.9 L190.4,361.6 L191.5,360.8 L192.6,360.5 L193.7,360.4 L194.7,359.9 L195.8,359.6 L196.9,359.0 L198.0,359.0 L199.1,358.3 L200.2,356.9 L201.3,358.0 L202.3,359.0 L203.4,357.6 L204.5,356.8 L205.6,355.4 L206.7,354.0 L207.8,353.3 L208.9,352.9 L209.9,351.3 L211.0,351.3 L212.1,351.8 L213.2,351.5 L214.3,350.6 L215.4,349.7 L216.5,350.0 L217.5,349.6 L218.6,349.6 L219.7,347.8 L220.8,346.3 L221.9,346.4 L223.0,346.2 L224.1,345.1 L225.1,344.1 L226.2,343.2 L227.3,342.5 L228.4,343.8 L229.5,344.9 L230.6,345.0 L231.7,345.2 L232.7,345.4 L233.8,345.7 L234.9,345.9 L236.0,346.2 L237.1,345.1 L238.2,345.3 L239.3,345.3 L240.3,343.7 L241.4,342.4 L242.5,342.2 L243.6,342.2 L244.7,341.4 L245.8,339.1 L246.9,339.3 L248.0,341.4 L249.0,341.8 L250.1,341.0 L251.2,340.6 L252.3,339.1 L253.4,337.9 L254.5,336.7 L255.6,337.4 L256.6,339.3 L257.7,338.9 L258.8,338.9 L259.9,337.8 L261.0,337.9 L262.1,338.1 L263.2,338.4 L264.2,336.8 L265.3,336.7 L266.4,338.2 L267.5,338.0 L268.6,337.8 L269.7,337.4 L270.8,336.9 L271.8,335.4 L272.9,336.0 L274.0,335.6 L275.1,334.9 L276.2,335.0 L277.3,334.8 L278.4,334.7 L279.4,334.6 L280.5,334.8 L281.6,334.3 L282.7,333.8 L283.8,333.4 L284.9,333.0 L286.0,332.7 L287.0,332.1 L288.1,332.3 L289.2,332.4 L290.3,332.5 L291.4,332.5 L292.5,332.5 L293.6,331.8 L294.6,332.2 L295.7,332.0 L296.8,331.1 L297.9,330.9 L299.0,331.7 L300.1,332.2 L301.2,331.0 L302.2,330.8 L303.3,331.3 L304.4,330.7 L305.5,331.2 L306.6,331.5 L307.7,330.9 L308.8,330.7 L309.9,330.7 L310.9,330.9 L312.0,329.6 L313.1,330.5 L314.2,331.0 L315.3,329.9 L316.4,330.1 L317.5,330.7 L318.5,331.5 L319.6,332.1 L320.7,332.7 L321.8,333.6 L322.9,333.3 L324.0,333.3 L325.1,333.1 L326.1,332.6 L327.2,332.8 L328.3,333.8 L329.4,334.5" fill="none" stroke="#dd8452" stroke-width="1.5" stroke-linejoin="round"/>
<path d="M57.9,475.3 L59.0,475.3 L60.1,475.3 L61.2,475.2 L62.2,475.2 L63.3,475.1 L64.4,475.1 L65.5,475.1 L66.6,475.1 L67.7,475.0 L68.8,475.0 L69.8,475.0 L70.9,475.0 L72.0,475.0 L73.1,475.0 L74.2,475.0 L75.3,475.0 L76.4,474.9 L77.4,474.9 L78.5,474.9 L79.6,474.8 L80.7,474.9 L81.8,474.9 L82.9,474.9 L84.0,474.8 L85.0,474.7 L86.1,474.7 L87.2,474.6 L88.3,474.5 L89.4,474.3 L90.5,474.4 L91.6,474.4 L92.7,474.2 L93.7,474.0 L94.8,473.7 L95.9,473.5 L97.0,473.5 L98.1,473.3 L99.2,472.6 L100.3,471.8 L101.3,471.1 L102.4,470.3 L103.5,469.7 L104.6,469.2 L105.7,468.5 L106.8,467.9 L107.9,467.6 L108.9,467.3 L110.0,466.8 L111.1,466.6 L112.2,466.7 L113.3,466.7 L114.4,466.6 L115.5,466.8 L116.5,466.8 L117.6,465.9 L118.7,464.8 L119.8,464.5 L120.9,464.9 L122.0,464.8 L123.1,463.9 L124.1,463.0 L125.2,462.3 L126.3,461.4 L127.4,460.9 L128.5,460.8 L129.6,460.9 L130.7,461.3 L131.7,461.0 L132.8,459.9 L133.9,459.0 L135.0,458.5 L136.1,458.0 L137.2,457.6 L138.3,457.6 L139.3,458.0 L140.4,457.4 L141.5,456.3 L142.6,455.7 L143.7,455.3 L144.8,454.3 L145.9,453.4 L147.0,452.4 L148.0,451.0 L149.1,450.0 L150.2,449.1 L151.3,447.6 L152.4,446.3 L153.5,445.7 L154.6,445.5 L155.6,445.3 L156.7,444.6 L157.8,444.0 L158.9,443.6 L160.0,442.7 L161.1,441.2 L162.2,439.2 L163.2,437.2 L164.3,435.8 L165.4,434.5 L166.5,433.0 L167.6,432.0 L168.7,432.1 L169.8,432.2 L170.8,431.8 L171.9,430.5 L173.0,429.4 L174.1,429.0 L175.2,428.9 L176.3,428.4 L177.4,427.1 L178.4,426.2 L179.5,425.8 L180.6,424.9 L181.7,423.2 L182.8,421.3 L183.9,419.9 L185.0,419.7 L186.0,419.5 L187.1,419.0 L188.2,418.5 L189.3,417.2 L190.4,415.7 L191.5,415.4 L192.6,415.4 L193.7,414.6 L194.7,413.2 L195.8,411.9 L196.9,411.2 L198.0,410.5 L199.1,409.4 L200.2,408.6 L201.3,407.9 L202.3,407.4 L203.4,407.1 L204.5,406.2 L205.6,404.6 L206.7,403.4 L207.8,402.2 L208.9,400.4 L209.9,398.6 L211.0,397.3 L212.1,396.0 L213.2,394.6 L214.3,393.6 L215.4,392.7 L216.5,391.1 L217.5,389.5 L218.6,388.6 L219.7,387.7 L220.8,386.9 L221.9,386.2 L223.0,385.3 L224.1,384.1 L225.1,383.0 L226.2,382.6 L227.3,382.4 L228.4,381.5 L229.5,380.1 L230.6,378.9 L231.7,378.0 L232.7,377.2 L233.8,376.5 L234.9,376.2 L236.0,376.0 L237.1,375.6 L238.2,375.4 L239.3,375.2 L240.3,373.6 L241.4,371.9 L242.5,371.7 L243.6,371.6 L244.7,370.0 L245.8,368.4 L246.9,367.9 L248.0,367.9 L249.0,367.6 L250.1,366.7 L251.2,365.3 L252.3,364.5 L253.4,364.0 L254.5,363.7 L255.6,363.9 L256.6,364.7 L257.7,365.1 L258.8,365.0 L259.9,364.6 L261.0,364.0 L262.1,364.0 L263.2,364.3 L264.2,364.2 L265.3,363.2 L266.4,361.9 L267.5,361.3 L268.6,360.8 L269.7,359.9 L270.8,359.0 L271.8,358.3 L272.9,357.9 L274.0,357.1 L275.1,356.1 L276.2,355.3 L277.3,354.6 L278.4,353.8 L279.4,352.6 L280.5,351.9 L281.6,352.0 L282.7,352.3 L283.8,352.2 L284.9,351.8 L286.0,351.3 L287.0,351.0 L288.1,351.5 L289.2,352.0 L290.3,352.3 L291.4,352.2 L292.5,351.8 L293.6,351.5 L294.6,351.9 L295.7,352.5 L296.8,352.6 L297.9,352.9 L299.0,352.4 L300.1,351.7 L301.2,351.4 L302.2,351.2 L303.3,350.9 L304.4,350.3 L305.5,350.0 L306.6,350.2 L307.7,349.5 L308.8,348.6 L309.9,348.5 L310.9,348.4 L312.0,347.6 L313.1,346.5 L314.2,345.3 L315.3,344.8 L316.4,345.6 L317.5,346.6 L318.5,346.8 L319.6,346.7 L320.7,346.2 L321.8,345.8 L322.9,345.6 L324.0,345.1 L325.1,344.8 L326.1,345.0 L327.2,345.2 L328.3,344.9 L329.4,344.3 L329.4,368.1 L328.3,368.6 L327.2,369.6 L326.1,370.4 L325.1,370.9 L324.0,371.6 L322.9,372.5 L321.8,373.2 L320.7,373.5 L319.6,373.3 L318.5,372.6 L317.5,372.1 L316.4,372.2 L315.3,372.5 L314.2,372.9 L313.1,373.7 L312.0,374.6 L310.9,375.1 L309.9,375.5 L308.8,376.0 L307.7,376.3 L306.6,376.8 L305.5,378.0 L304.4,379.3 L303.3,380.3 L302.2,380.8 L301.2,381.2 L300.1,382.2 L299.0,383.4 L297.9,384.2 L296.8,384.3 L295.7,383.9 L294.6,382.9 L293.6,382.3 L292.5,382.2 L291.4,382.2 L290.3,382.8 L289.2,383.4 L288.1,383.8 L287.0,384.0 L286.0,383.9 L284.9,383.7 L283.8,384.6 L282.7,385.7 L281.6,386.3 L280.5,386.7 L279.4,387.1 L278.4,387.7 L277.3,388.6 L276.2,389.5 L275.1,390.0 L274.0,390.3 L272.9,391.1 L271.8,392.1 L270.8,393.1 L269.7,393.9 L268.6,394.6 L267.5,395.3 L266.4,395.5 L265.3,395.7 L264.2,396.3 L263.2,396.9 L262.1,397.1 L261.0,397.5 L259.9,398.2 L258.8,398.9 L257.7,399.5 L256.6,399.3 L255.6,398.1 L254.5,397.6 L253.4,398.0 L252.3,398.7 L251.2,399.1 L250.1,399.4 L249.0,399.6 L248.0,400.2 L246.9,400.7 L245.8,401.3 L244.7,402.5 L243.6,403.4 L242.5,403.9 L241.4,404.3 L240.3,404.8 L239.3,405.2 L238.2,405.5 L237.1,406.3 L236.0,407.5 L234.9,408.2 L233.8,408.6 L232.7,409.0 L231.7,409.2 L230.6,409.3 L229.5,410.1 L228.4,411.2 L227.3,411.8 L226.2,412.6 L225.1,413.9 L224.1,414.7 L223.0,415.3 L221.9,416.0 L220.8,416.5 L219.7,417.0 L218.6,417.7 L217.5,418.7 L216.5,420.3 L215.4,422.3 L214.3,423.8 L213.2,425.0 L212.1,426.0 L211.0,426.9 L209.9,428.5 L208.9,429.7 L207.8,430.5 L206.7,431.9 L205.6,433.4 L204.5,434.6 L203.4,435.3 L202.3,435.7 L201.3,436.4 L200.2,437.5 L199.1,438.7 L198.0,439.8 L196.9,440.1 L195.8,440.7 L194.7,441.9 L193.7,443.0 L192.6,443.6 L191.5,444.0 L190.4,444.7 L189.3,445.5 L188.2,446.0 L187.1,446.5 L186.0,447.1 L185.0,447.5 L183.9,448.3 L182.8,449.4 L181.7,450.0 L180.6,450.6 L179.5,451.9 L178.4,453.4 L177.4,454.5 L176.3,455.3 L175.2,455.9 L174.1,455.9 L173.0,455.8 L171.9,455.8 L170.8,456.2 L169.8,456.4 L168.7,456.1 L167.6,455.8 L166.5,456.5 L165.4,457.4 L164.3,457.7 L163.2,458.3 L162.2,459.3 L161.1,460.4 L160.0,461.1 L158.9,460.9 L157.8,460.6 L156.7,460.2 L155.6,459.6 L154.6,459.3 L153.5,459.4 L152.4,460.3 L151.3,461.9 L150.2,462.7 L149.1,463.7 L148.0,464.7 L147.0,465.5 L145.9,466.3 L144.8,467.3 L143.7,468.2 L142.6,469.0 L141.5,469.8 L140.4,470.4 L139.3,470.3 L138.3,470.6 L137.2,471.7 L136.1,471.9 L135.0,471.4 L133.9,471.1 L132.8,471.5 L131.7,471.9 L130.7,471.7 L129.6,471.5 L128.5,471.5 L127.4,471.2 L126.3,470.8 L125.2,470.4 L124.1,470.2 L123.1,470.2 L122.0,470.3 L120.9,470.9 L119.8,471.6 L118.7,472.0 L117.6,472.2 L116.5,472.3 L115.5,472.1 L114.4,471.9 L113.3,472.1 L112.2,472.1 L111.1,472.1 L110.0,472.8 L108.9,473.1 L107.9,472.9 L106.8,472.9 L105.7,473.1 L104.6,472.9 L103.5,472.9 L102.4,473.2 L101.3,473.6 L100.3,473.9 L99.2,474.2 L98.1,474.5 L97.0,474.9 L95.9,475.1 L94.8,475.4 L93.7,475.7 L92.7,476.0 L91.6,476.0 L90.5,475.9 L89.4,476.0 L88.3,476.1 L87.2,476.1 L86.1,476.0 L85.0,475.9 L84.0,475.9 L82.9,475.8 L81.8,475.7 L80.7,475.7 L79.6,475.7 L78.5,475.8 L77.4,475.8 L76.4,475.7 L75.3,475.6 L74.2,475.7 L73.1,475.7 L72.0,475.6 L70.9,475.6 L69.8,475.6 L68.8,475.6 L67.7,475.6 L66.6,475.6 L65.5,475.6 L64.4,475.5 L63.3,475.4 L62.2,475.4 L61.2,475.3 L60.1,475.3 L59.0,475.3 L57.9,475.3 Z" fill="#55a868" fill-opacity="0.4"/>
<path d="M57.9,475.3 L59.0,475.3 L60.1,475.3 L61.2,475.3 L62.2,475.3 L63.3,475.3 L64.4,475.3 L65.5,475.3 L66.6,475.3 L67.7,475.3 L68.8,475.3 L69.8,475.3 L70.9,475.3 L72.0,475.3 L73.1,475.3 L74.2,475.3 L75.3,475.3 L76.4,475.3 L77.4,475.3 L78.5,475.3 L79.6,475.3 L80.7,475.3 L81.8,475.3 L82.9,475.3 L84.0,475.3 L85.0,475.3 L86.1,475.3 L87.2,475.3 L88.3,475.3 L89.4,475.3 L90.5,475.3 L91.6,475.3 L92.7,475.3 L93.7,475.3 L94.8,475.0 L95.9,474.6 L97.0,474.4 L98.1,474.1 L99.2,474.0 L100.3,473.0 L101.3,472.4 L102.4,472.3 L103.5,471.4 L104.6,470.7 L105.7,470.6 L106.8,469.9 L107.9,469.3 L108.9,469.8 L110.0,470.3 L111.1,470.2 L112.2,469.5 L113.3,469.4 L114.4,469.3 L115.5,468.8 L116.5,468.5 L117.6,469.1 L118.7,469.5 L119.8,469.2 L120.9,467.3 L122.0,466.6 L123.1,466.3 L124.1,466.9 L125.2,467.3 L126.3,466.9 L127.4,467.0 L128.5,467.4 L129.6,466.7 L130.7,465.2 L131.7,465.3 L132.8,465.6 L133.9,465.9 L135.0,465.8 L136.1,464.8 L137.2,464.6 L138.3,464.5 L139.3,463.8 L140.4,463.6 L141.5,462.6 L142.6,461.9 L143.7,462.1 L144.8,460.6 L145.9,460.2 L147.0,459.4 L148.0,458.7 L149.1,457.5 L150.2,456.2 L151.3,455.2 L152.4,454.3 L153.5,453.0 L154.6,451.7 L155.6,452.0 L156.7,452.1 L157.8,452.1 L158.9,452.5 L160.0,451.4 L161.1,449.6 L162.2,449.2 L163.2,448.4 L164.3,446.5 L165.4,446.0 L166.5,445.3 L167.6,445.4 L168.7,445.1 L169.8,445.3 L170.8,444.0 L171.9,443.6 L173.0,443.2 L174.1,441.5 L175.2,441.1 L176.3,441.3 L177.4,440.8 L178.4,439.6 L179.5,438.3 L180.6,436.8 L181.7,435.9 L182.8,435.6 L183.9,435.0 L185.0,434.3 L186.0,433.7 L187.1,432.5 L188.2,431.2 L189.3,430.1 L190.4,429.4 L191.5,429.7 L192.6,429.0 L193.7,428.3 L194.7,426.7 L195.8,426.5 L196.9,426.1 L198.0,425.9 L199.1,425.0 L200.2,423.6 L201.3,422.7 L202.3,421.8 L203.4,421.3 L204.5,419.8 L205.6,418.7 L206.7,416.9 L207.8,416.2 L208.9,415.2 L209.9,414.7 L211.0,413.1 L212.1,411.9 L213.2,410.4 L214.3,408.7 L215.4,407.2 L216.5,405.6 L217.5,403.9 L218.6,402.7 L219.7,402.0 L220.8,401.8 L221.9,401.0 L223.0,400.2 L224.1,399.9 L225.1,398.2 L226.2,397.5 L227.3,396.9 L228.4,395.7 L229.5,395.1 L230.6,395.1 L231.7,394.9 L232.7,393.7 L233.8,393.0 L234.9,392.5 L236.0,391.1 L237.1,390.7 L238.2,391.0 L239.3,389.8 L240.3,388.9 L241.4,387.1 L242.5,386.5 L243.6,386.8 L244.7,386.2 L245.8,385.0 L246.9,384.0 L248.0,383.1 L249.0,383.6 L250.1,384.5 L251.2,383.0 L252.3,382.2 L253.4,379.6 L254.5,379.7 L255.6,381.6 L256.6,382.7 L257.7,381.5 L258.8,380.5 L259.9,381.1 L261.0,381.3 L262.1,380.4 L263.2,380.9 L264.2,379.9 L265.3,379.2 L266.4,378.4 L267.5,378.1 L268.6,377.0 L269.7,377.0 L270.8,377.5 L271.8,376.9 L272.9,375.0 L274.0,373.2 L275.1,372.7 L276.2,372.2 L277.3,371.4 L278.4,370.2 L279.4,369.5 L280.5,369.0 L281.6,369.0 L282.7,368.0 L283.8,367.8 L284.9,368.4 L286.0,367.2 L287.0,367.4 L288.1,368.4 L289.2,368.6 L290.3,367.3 L291.4,366.9 L292.5,367.9 L293.6,368.5 L294.6,367.8 L295.7,368.4 L296.8,368.3 L297.9,366.9 L299.0,366.4 L300.1,366.7 L301.2,366.8 L302.2,366.3 L303.3,366.5 L304.4,365.2 L305.5,364.7 L306.6,364.6 L307.7,363.8 L308.8,362.2 L309.9,361.5 L310.9,360.8 L312.0,360.1 L313.1,360.4 L314.2,360.5 L315.3,360.2 L316.4,358.8 L317.5,358.1 L318.5,358.7 L319.6,359.2 L320.7,360.3 L321.8,360.7 L322.9,360.7 L324.0,359.8 L325.1,357.8 L326.1,357.4 L327.2,357.7 L328.3,356.9 L329.4,355.7" fill="none" stroke="#55a868" stroke-width="1.5" stroke-linejoin="round"/>
<text x="20.80" y="479.70" font-size="10.8" style="font-family:&quot;Liberation Sans&quot;,Arial,sans-serif" fill="#4a4a4a" textLength="15.30" lengthAdjust="spacingAndGlyphs" stroke="#4a4a4a" stroke-width="0.18">0.0</text>
<text x="20.80" y="450.06" font-size="10.8" style="font-family:&quot;Liberation Sans&quot;,Arial,sans-serif" fill="#4a4a4a" textLength="15.30" lengthAdjust="spacingAndGlyphs" stroke="#4a4a4a" stroke-width="0.18">0.2</text>
<text x="20.80" y="420.42" font-size="10.8" style="font-family:&quot;Liberation Sans&quot;,Arial,sans-serif" fill="#4a4a4a" textLength="15.30" lengthAdjust="spacingAndGlyphs" stroke="#4a4a4a" stroke-width="0.18">0.4</text>
<text x="20.80" y="390.78" font-size="10.8" style="font-family:&quot;Liberation Sans&quot;,Arial,sans-serif" fill="#4a4a4a" textLength="15.30" lengthAdjust="spacingAndGlyphs" stroke="#4a4a4a" stroke-width="0.18">0.6</text>
<text x="20.80" y="361.14" font-size="10.8" style="font-family:&quot;Liberation Sans&quot;,Arial,sans-serif" fill="#4a4a4a" textLength="15.30" lengthAdjust="spacingAndGlyphs" stroke="#4a4a4a" stroke-width="0.18">0.8</text>
<text x="20.80" y="331.50" font-size="10.8" style="font-family:&quot;Liberation Sans&quot;,Arial,sans-serif" fill="#4a4a4a" textLength="15.30" lengthAdjust="spacingAndGlyphs" stroke="#4a4a4a" stroke-width="0.18">1.0</text>
<text x="54.10" y="498.00" font-size="10.8" style="font-family:&quot;Liberation Sans&quot;,Arial,sans-serif" fill="#4a4a4a" textLength="7.61" lengthAdjust="spacingAndGlyphs" stroke="#4a4a4a" stroke-width="0.18">0</text>
<text x="102.38" y="498.00" font-size="10.8" style="font-family:&quot;Liberation Sans&quot;,Arial,sans-serif" fill="#4a4a4a" textLength="19.62" lengthAdjust="spacingAndGlyphs" stroke="#4a4a4a" stroke-width="0.18">200</text>
<text x="156.68" y="498.00" font-size="10.8" style="font-family:&quot;Liberation Sans&quot;,Arial,sans-serif" fill="#4a4a4a" textLength="19.62" lengthAdjust="spacingAndGlyphs" stroke="#4a4a4a" stroke-width="0.18">400</text>
<text x="210.98" y="498.00" font-size="10.8" style="font-family:&quot;Liberation Sans&quot;,Arial,sans-serif" fill="#4a4a4a" textLength="19.62" lengthAdjust="spacingAndGlyphs" stroke="#4a4a4a" stroke-width="0.18">600</text>
<text x="265.28" y="498.00" font-size="10.8" style="font-family:&quot;Liberation Sans&quot;,Arial,sans-serif" fill="#4a4a4a" textLength="19.62" lengthAdjust="spacingAndGlyphs" stroke="#4a4a4a" stroke-width="0.18">800</text>
<text x="316.58" y="498.00" font-size="10.8" style="font-family:&quot;Liberation Sans&quot;,Arial,sans-serif" fill="#4a4a4a" textLength="25.63" lengthAdjust="spacingAndGlyphs" stroke="#4a4a4a" stroke-width="0.18">1000</text>
<text x="171.10" y="511.40" font-size="10.8" style="font-family:&quot;Liberation Sans&quot;,Arial,sans-serif" fill="#4a4a4a" textLength="45.69" lengthAdjust="spacingAndGlyphs" stroke="#4a4a4a" stroke-width="0.18">Episodes</text>
<text x="162.90" y="316.60" font-size="10.8" style="font-family:&quot;Liberation Sans&quot;,Arial,sans-serif" fill="#4a4a4a" textLength="61.79" lengthAdjust="spacingAndGlyphs" stroke="#4a4a4a" stroke-width="0.18">Frozen Lake</text>
<text transform="translate(15.00,446.00) scale(1.0,1) rotate(-90)" x="0" y="0" font-size="10.4" style="font-family:&quot;Liberation Sans&quot;,Arial,sans-serif" fill="#4a4a4a" textLength="89.11" lengthAdjust="spacingAndGlyphs" stroke="#4a4a4a" stroke-width="0.18">Normalized Reward</text>
<rect x="50.5" y="326.4" width="130.1" height="46" rx="2" ry="2" fill="#ffffff" fill-opacity="0.8" stroke="#cccccc" stroke-width="1"/>
<line x1="53.60" y1="334.30" x2="76.80" y2="334.30" stroke="#4c72b0" stroke-width="1.6"/>
<text x="85.00" y="338.00" font-size="10.9" style="font-family:&quot;Liberation Sans&quot;,Arial,sans-serif" text-anchor="start" fill="#4a4a4a" stroke="#4a4a4a" stroke-width="0.18">GFlan</text>
<line x1="53.60" y1="348.50" x2="76.80" y2="348.50" stroke="#dd8452" stroke-width="1.6"/>
<text x="85.00" y="352.20" font-size="10.9" style="font-family:&quot;Liberation Sans&quot;,Arial,sans-serif" text-anchor="start" fill="#4a4a4a" stroke="#4a4a4a" stroke-width="0.18">Bilevel-LLM</text>
<line x1="53.60" y1="362.30" x2="76.80" y2="362.30" stroke="#55a868" stroke-width="1.6"/>
<text x="84.80" y="366.00" font-size="10.8" style="font-family:&quot;Liberation Sans&quot;,Arial,sans-serif" fill="#4a4a4a" textLength="92.21" lengthAdjust="spacingAndGlyphs" stroke="#4a4a4a" stroke-width="0.18">Direct-Prompt-LLM</text>
<text x="0.00" y="545.80" font-size="26" style="font-family:&quot;Liberation Serif&quot;,serif" fill="#2a2a2a" textLength="32.93" lengthAdjust="spacingAndGlyphs">(b)</text>
<text x="46.00" y="545.80" font-size="26" style="font-family:&quot;Liberation Serif&quot;,serif" fill="#2a2a2a" textLength="90.14" lengthAdjust="spacingAndGlyphs">Directly</text>
<text x="152.70" y="545.80" font-size="26" style="font-family:&quot;Liberation Serif&quot;,serif" fill="#2a2a2a" textLength="82.76" lengthAdjust="spacingAndGlyphs">prompt</text>
<text x="252.60" y="545.80" font-size="26" style="font-family:&quot;Liberation Serif&quot;,serif" fill="#2a2a2a" textLength="35.95" lengthAdjust="spacingAndGlyphs">the</text>
<text x="305.00" y="545.80" font-size="26" style="font-family:&quot;Liberation Serif&quot;,serif" fill="#2a2a2a" textLength="50.14" lengthAdjust="spacingAndGlyphs">CoT</text>
<text x="0.40" y="574.30" font-size="26" style="font-family:&quot;Liberation Serif&quot;,serif" fill="#2a2a2a" textLength="53.42" lengthAdjust="spacingAndGlyphs">LLM</text>
<line x1="415.40" y1="467.14" x2="684.20" y2="467.14" stroke="#dcdcdc" stroke-width="1.2"/>
<line x1="415.40" y1="435.98" x2="684.20" y2="435.98" stroke="#dcdcdc" stroke-width="1.2"/>
<line x1="415.40" y1="404.82" x2="684.20" y2="404.82" stroke="#dcdcdc" stroke-width="1.2"/>
<line x1="415.40" y1="373.66" x2="684.20" y2="373.66" stroke="#dcdcdc" stroke-width="1.2"/>
<line x1="415.40" y1="342.50" x2="684.20" y2="342.50" stroke="#dcdcdc" stroke-width="1.2"/>
<rect x="428.00" y="372.10" width="52.10" height="126.20" fill="#436aa8"/>
<rect x="492.00" y="342.50" width="52.10" height="155.80" fill="#d47f56"/>
<rect x="556.10" y="457.79" width="51.80" height="40.51" fill="#4a9d69"/>
<rect x="620.00" y="433.18" width="51.70" height="65.12" fill="#bc4c53"/>
<line x1="454.10" y1="359.33" x2="454.10" y2="384.57" stroke="#a3a3a3" stroke-width="1.3"/>
<line x1="452.00" y1="359.33" x2="456.20" y2="359.33" stroke="#a3a3a3" stroke-width="1.3"/>
<line x1="452.00" y1="384.57" x2="456.20" y2="384.57" stroke="#a3a3a3" stroke-width="1.3"/>
<line x1="518.00" y1="341.57" x2="518.00" y2="343.43" stroke="#a3a3a3" stroke-width="1.3"/>
<line x1="515.90" y1="341.57" x2="520.10" y2="341.57" stroke="#a3a3a3" stroke-width="1.3"/>
<line x1="515.90" y1="343.43" x2="520.10" y2="343.43" stroke="#a3a3a3" stroke-width="1.3"/>
<line x1="582.00" y1="445.33" x2="582.00" y2="469.01" stroke="#a3a3a3" stroke-width="1.3"/>
<line x1="579.90" y1="445.33" x2="584.10" y2="445.33" stroke="#a3a3a3" stroke-width="1.3"/>
<line x1="579.90" y1="469.01" x2="584.10" y2="469.01" stroke="#a3a3a3" stroke-width="1.3"/>
<line x1="645.80" y1="415.73" x2="645.80" y2="448.44" stroke="#a3a3a3" stroke-width="1.3"/>
<line x1="643.70" y1="415.73" x2="647.90" y2="415.73" stroke="#a3a3a3" stroke-width="1.3"/>
<line x1="643.70" y1="448.44" x2="647.90" y2="448.44" stroke="#a3a3a3" stroke-width="1.3"/>
<rect x="415.40" y="327.00" width="268.80" height="171.30" fill="none" stroke="#cccccc" stroke-width="1.2"/>
<text x="386.50" y="502.90" font-size="12.6" style="font-family:&quot;DejaVu Sans&quot;,sans-serif" fill="#3a3a3a" textLength="22.21" lengthAdjust="spacingAndGlyphs">0.4</text>
<text x="386.50" y="471.74" font-size="12.6" style="font-family:&quot;DejaVu Sans&quot;,sans-serif" fill="#3a3a3a" textLength="22.21" lengthAdjust="spacingAndGlyphs">0.5</text>
<text x="386.50" y="440.58" font-size="12.6" style="font-family:&quot;DejaVu Sans&quot;,sans-serif" fill="#3a3a3a" textLength="22.21" lengthAdjust="spacingAndGlyphs">0.6</text>
<text x="386.50" y="409.42" font-size="12.6" style="font-family:&quot;DejaVu Sans&quot;,sans-serif" fill="#3a3a3a" textLength="22.21" lengthAdjust="spacingAndGlyphs">0.7</text>
<text x="386.50" y="378.26" font-size="12.6" style="font-family:&quot;DejaVu Sans&quot;,sans-serif" fill="#3a3a3a" textLength="22.21" lengthAdjust="spacingAndGlyphs">0.8</text>
<text x="386.50" y="347.10" font-size="12.6" style="font-family:&quot;DejaVu Sans&quot;,sans-serif" fill="#3a3a3a" textLength="22.21" lengthAdjust="spacingAndGlyphs">0.9</text>
<text x="518.60" y="511.70" font-size="13" style="font-family:&quot;DejaVu Sans&quot;,sans-serif" fill="#3a3a3a" textLength="63.11" lengthAdjust="spacingAndGlyphs">Baselines</text>
<text x="455.40" y="322.00" font-size="12.8" style="font-family:&quot;DejaVu Sans&quot;,sans-serif" fill="#3a3a3a" textLength="189.00" lengthAdjust="spacingAndGlyphs">Ablation of multimodel state</text>
<text transform="translate(382.40,475.80) scale(1.0,1) rotate(-90)" x="0" y="0" font-size="13.3" style="font-family:&quot;DejaVu Sans&quot;,sans-serif" fill="#3a3a3a" textLength="127.57" lengthAdjust="spacingAndGlyphs">Normalized Reward</text>
<rect x="530.4" y="332.5" width="147.8" height="76.4" rx="3" ry="3" fill="#ffffff" fill-opacity="0.8" stroke="#cccccc" stroke-width="1"/>
<rect x="535.70" y="339.30" width="24.50" height="7.70" fill="#436aa8"/>
<text x="570.00" y="347.50" font-size="12.6" style="font-family:&quot;DejaVu Sans&quot;,sans-serif" text-anchor="start" fill="#3a3a3a">GFlan</text>
<rect x="535.70" y="357.50" width="24.50" height="7.70" fill="#d47f56"/>
<text x="570.00" y="365.70" font-size="12.6" style="font-family:&quot;DejaVu Sans&quot;,sans-serif" text-anchor="start" fill="#3a3a3a">Bilevel-LLM</text>
<rect x="535.70" y="375.60" width="24.50" height="7.70" fill="#4a9d69"/>
<text x="570.00" y="383.80" font-size="12.6" style="font-family:&quot;DejaVu Sans&quot;,sans-serif" text-anchor="start" fill="#3a3a3a">Vailla-PPO</text>
<rect x="535.70" y="393.80" width="24.50" height="7.70" fill="#bc4c53"/>
<text x="570.00" y="402.00" font-size="12.6" style="font-family:&quot;DejaVu Sans&quot;,sans-serif" fill="#3a3a3a" textLength="104.00" lengthAdjust="spacingAndGlyphs">Bilevel-Symbolic</text>
<text x="370.70" y="545.30" font-size="26" style="font-family:&quot;Liberation Serif&quot;,serif" fill="#2a2a2a" textLength="30.60" lengthAdjust="spacingAndGlyphs">(c)</text>
<text x="410.90" y="545.30" font-size="26" style="font-family:&quot;Liberation Serif&quot;,serif" fill="#2a2a2a" textLength="96.88" lengthAdjust="spacingAndGlyphs">Ablation</text>
<text x="516.00" y="545.30" font-size="26" style="font-family:&quot;Liberation Serif&quot;,serif" fill="#2a2a2a" textLength="27.90" lengthAdjust="spacingAndGlyphs">on</text>
<text x="551.50" y="545.30" font-size="26" style="font-family:&quot;Liberation Serif&quot;,serif" fill="#2a2a2a" textLength="128.22" lengthAdjust="spacingAndGlyphs">multimodal</text>
</g>
</svg>
</body></html>
